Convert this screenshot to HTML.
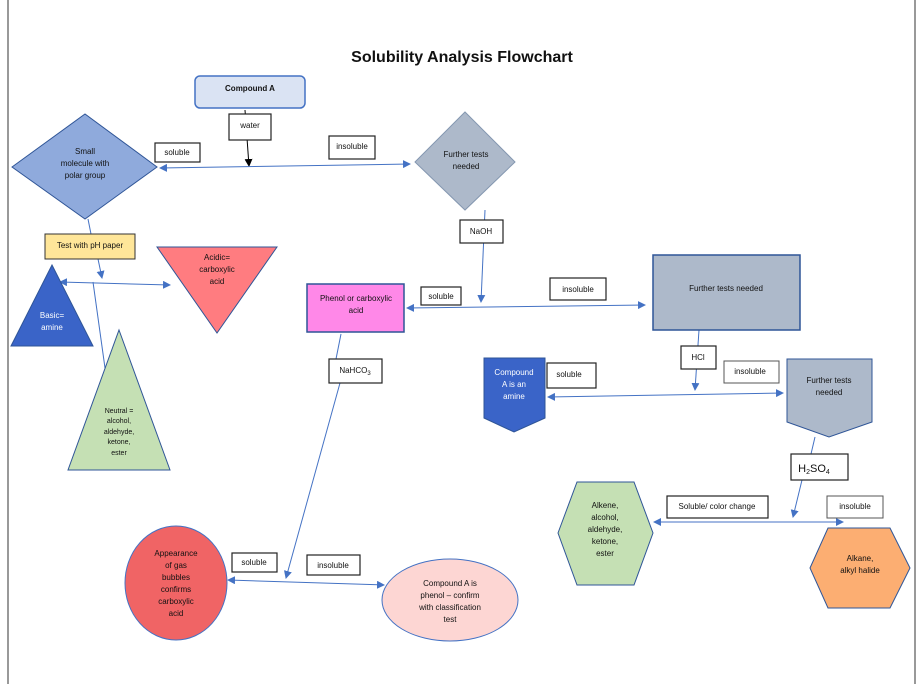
<!DOCTYPE html>
<html><head><meta charset="utf-8"><style>
body{margin:0;background:#fff}
svg{display:block}
text{font-family:"Liberation Sans",sans-serif;font-size:8px;fill:#111;text-anchor:middle}
.b{fill:#fff;stroke:#222;stroke-width:1.2}
.l{stroke:#4472c4;stroke-width:1;fill:none}
</style></head><body>
<svg width="921" height="684" viewBox="0 0 921 684">
<defs>
<marker id="a" markerWidth="8" markerHeight="8" refX="7" refY="4" orient="auto-start-reverse" markerUnits="userSpaceOnUse"><path d="M0,0L8,4L0,8z" fill="#4472c4"/></marker>
<marker id="k" markerWidth="8" markerHeight="8" refX="7" refY="4" orient="auto" markerUnits="userSpaceOnUse"><path d="M0,0L8,4L0,8z" fill="#000"/></marker>
</defs>
<line x1="8" y1="0" x2="8" y2="684" stroke="#999" stroke-width="2"/>
<line x1="915" y1="0" x2="915" y2="684" stroke="#999" stroke-width="2"/>
<text x="462" y="62" style="font-size:16px;font-weight:bold">Solubility Analysis Flowchart</text>

<!-- lines -->
<line x1="245" y1="110" x2="249" y2="166" stroke="#000" marker-end="url(#k)"/>
<line class="l" x1="160" y1="168" x2="410" y2="164" marker-start="url(#a)" marker-end="url(#a)"/>
<line class="l" x1="485" y1="210" x2="481" y2="302" marker-end="url(#a)"/>
<line class="l" x1="88" y1="219" x2="91" y2="234"/>
<line class="l" x1="98" y1="259" x2="102" y2="278" marker-end="url(#a)"/>
<line class="l" x1="60" y1="282" x2="170" y2="285" marker-start="url(#a)" marker-end="url(#a)"/>
<line class="l" x1="93" y1="282" x2="105" y2="368"/>
<line class="l" x1="407" y1="308" x2="645" y2="305" marker-start="url(#a)" marker-end="url(#a)"/>
<line class="l" x1="699" y1="330" x2="695" y2="390" marker-end="url(#a)"/>
<line class="l" x1="548" y1="397" x2="783" y2="393" marker-start="url(#a)" marker-end="url(#a)"/>
<line class="l" x1="815" y1="437" x2="811" y2="454"/>
<line class="l" x1="802" y1="480" x2="793" y2="517" marker-end="url(#a)"/>
<line class="l" x1="654" y1="522" x2="843" y2="522" marker-start="url(#a)" marker-end="url(#a)"/>
<line class="l" x1="341" y1="334" x2="336" y2="359"/>
<line class="l" x1="340" y1="383" x2="286" y2="578" marker-end="url(#a)"/>
<line class="l" x1="228" y1="580" x2="384" y2="585" marker-start="url(#a)" marker-end="url(#a)"/>

<!-- shapes -->
<rect x="195" y="76" width="110" height="32" rx="5" fill="#dae3f3" stroke="#4472c4" stroke-width="1.5"/>
<text x="250" y="91" style="font-weight:bold">Compound A</text>
<rect class="b" x="229" y="114" width="42" height="26"/><text x="250" y="128">water</text>

<polygon points="12,167 85,114 157,167 85,219" fill="#8faadc" stroke="#2f5597"/>
<text x="85" y="154">Small</text><text x="85" y="166">molecule with</text><text x="85" y="178">polar group</text>
<rect class="b" x="155" y="143" width="45" height="19"/><text x="177" y="155">soluble</text>
<rect class="b" x="329" y="136" width="46" height="23"/><text x="352" y="149">insoluble</text>

<polygon points="415,162 465,112 515,162 465,210" fill="#adb9ca" stroke="#8497b0"/>
<text x="466" y="157">Further tests</text><text x="466" y="169">needed</text>
<rect class="b" x="460" y="220" width="43" height="23"/><text x="481" y="234">NaOH</text>

<rect x="45" y="234" width="90" height="25" fill="#ffe699" stroke="#333"/>
<text x="90" y="248">Test with pH paper</text>
<polygon points="52,265 93,346 11,346" fill="#3a64c8" stroke="#2f5597"/>
<text x="52" y="318" style="fill:#fff">Basic=</text><text x="52" y="330" style="fill:#fff">amine</text>
<polygon points="157,247 277,247 217,333" fill="#ff7c80" stroke="#2f5597"/>
<text x="217" y="260">Acidic=</text><text x="217" y="272">carboxylic</text><text x="217" y="284">acid</text>
<polygon points="119,330 170,470 68,470" fill="#c5e0b4" stroke="#2f5597"/>
<text x="119" y="413" style="font-size:7px">Neutral =</text><text x="119" y="423" style="font-size:7px">alcohol,</text><text x="119" y="434" style="font-size:7px">aldehyde,</text><text x="119" y="444" style="font-size:7px">ketone,</text><text x="119" y="455" style="font-size:7px">ester</text>

<rect x="307" y="284" width="97" height="48" fill="#ff88e8" stroke="#2f5597" stroke-width="1.5"/>
<text x="356" y="301">Phenol or carboxylic</text><text x="356" y="313">acid</text>
<rect class="b" x="421" y="287" width="40" height="18"/><text x="441" y="299">soluble</text>
<rect class="b" x="550" y="278" width="56" height="22"/><text x="578" y="292">insoluble</text>

<rect x="653" y="255" width="147" height="75" fill="#adb9ca" stroke="#2f5597" stroke-width="1.5"/>
<text x="726" y="291">Further tests needed</text>
<rect class="b" x="681" y="346" width="35" height="23"/><text x="698" y="360">HCl</text>

<polygon points="484,358 545,358 545,418 514,432 484,418" fill="#3a64c8" stroke="#2f5597"/>
<text x="514" y="375" style="fill:#fff">Compound</text><text x="514" y="387" style="fill:#fff">A is an</text><text x="514" y="399" style="fill:#fff">amine</text>
<rect class="b" x="547" y="363" width="49" height="25"/><text x="569" y="377">soluble</text>
<rect x="724" y="361" width="55" height="22" fill="#fff" stroke="#555"/><text x="750" y="374">insoluble</text>

<polygon points="787,359 872,359 872,422 829,437 787,422" fill="#adb9ca" stroke="#2f5597"/>
<text x="829" y="383">Further tests</text><text x="829" y="395">needed</text>
<rect class="b" x="791" y="454" width="57" height="26"/><text x="814" y="472" style="font-size:11px">H<tspan style="font-size:7px" dy="2">2</tspan><tspan dy="-2">SO</tspan><tspan style="font-size:7px" dy="2">4</tspan></text>

<polygon points="558,533 577,482 634,482 653,533 634,585 577,585" fill="#c5e0b4" stroke="#2f5597"/>
<text x="605" y="508">Alkene,</text><text x="605" y="520">alcohol,</text><text x="605" y="532">aldehyde,</text><text x="605" y="544">ketone,</text><text x="605" y="556">ester</text>
<rect class="b" x="667" y="496" width="101" height="22"/><text x="717" y="509">Soluble/ color change</text>
<rect x="827" y="496" width="56" height="22" fill="#fff" stroke="#555"/><text x="855" y="509">insoluble</text>

<polygon points="810,568 828,528 890,528 910,568 890,608 828,608" fill="#fcae72" stroke="#2f5597"/>
<text x="860" y="561">Alkane,</text><text x="860" y="573">alkyl halide</text>

<rect class="b" x="329" y="359" width="53" height="24"/><text x="355" y="373">NaHCO<tspan style="font-size:6px" dy="2">3</tspan></text>

<ellipse cx="176" cy="583" rx="51" ry="57" fill="#f06465" stroke="#4472c4"/>
<text x="176" y="556">Appearance</text><text x="176" y="568">of gas</text><text x="176" y="580">bubbles</text><text x="176" y="592">confirms</text><text x="176" y="604">carboxylic</text><text x="176" y="616">acid</text>
<rect class="b" x="232" y="553" width="45" height="19"/><text x="254" y="565">soluble</text>
<rect class="b" x="307" y="555" width="53" height="20"/><text x="333" y="568">insoluble</text>

<ellipse cx="450" cy="600" rx="68" ry="41" fill="#fdd6d3" stroke="#4472c4"/>
<text x="450" y="586">Compound A is</text><text x="450" y="598">phenol – confirm</text><text x="450" y="610">with classification</text><text x="450" y="622">test</text>
</svg>
</body></html>
